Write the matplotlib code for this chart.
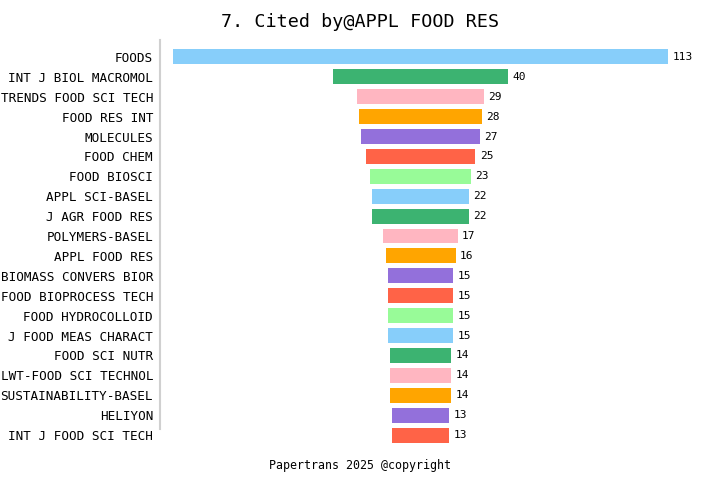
import matplotlib.pyplot as plt

journals = ["FOODS", "INT J BIOL MACROMOL", "TRENDS FOOD SCI TECH", "FOOD RES INT",
            "MOLECULES", "FOOD CHEM", "FOOD BIOSCI", "APPL SCI-BASEL",
            "J AGR FOOD RES", "POLYMERS-BASEL", "APPL FOOD RES",
            "BIOMASS CONVERS BIOR", "FOOD BIOPROCESS TECH", "FOOD HYDROCOLLOID",
            "J FOOD MEAS CHARACT", "FOOD SCI NUTR", "LWT-FOOD SCI TECHNOL",
            "SUSTAINABILITY-BASEL", "HELIYON", "INT J FOOD SCI TECH"]
counts = [113, 40, 29, 28, 27, 25, 23, 22, 22, 17, 16, 15, 15, 15, 15, 14, 14, 14, 13, 13]
palette = ["#87CEFA", "#3CB371", "#FFB6C1", "#FFA500", "#9370DB", "#FF6347", "#98FB98"]

plt.rcParams['font.family'] = ['DejaVu Sans Mono']

fig = plt.figure(figsize=(7.2, 4.8), dpi=100)
ax = fig.add_axes([160 / 720, 1 - 446 / 480, 540 / 720, 406 / 480])

ypos = list(range(len(journals)))
colors = [palette[i % len(palette)] for i in ypos]
lefts = [-c / 2 for c in counts]
ax.barh(ypos, counts, left=lefts, height=0.75, color=colors)

# value label just right of each bar
for y, c in zip(ypos, counts):
    ax.text(c / 2 + 1.0, y, str(c), va='center', ha='left', fontsize=8)

ax.set_yticks(ypos)
ax.set_yticklabels(journals, fontsize=9.1)
ax.tick_params(axis='y', length=0, pad=5)
ax.set_xticks([])
ax.set_xlim(-59.5, 63.8)
ax.set_ylim(19.55, -0.85)

for s in ['top', 'right', 'bottom']:
    ax.spines[s].set_visible(False)
ax.spines['left'].set_color('#d0d0d0')
ax.spines['left'].set_linewidth(1.5)
ax.spines['left'].set_bounds(-0.85, 18.7)

fig.suptitle("7. Cited by@APPL FOOD RES", fontsize=13.2, y=1 - 22 / 480, va='center')
fig.text(0.5, 1 - 465 / 480, "Papertrans 2025 @copyright", ha='center', va='center', fontsize=8.4)

fig.savefig("out.png", dpi=100)
